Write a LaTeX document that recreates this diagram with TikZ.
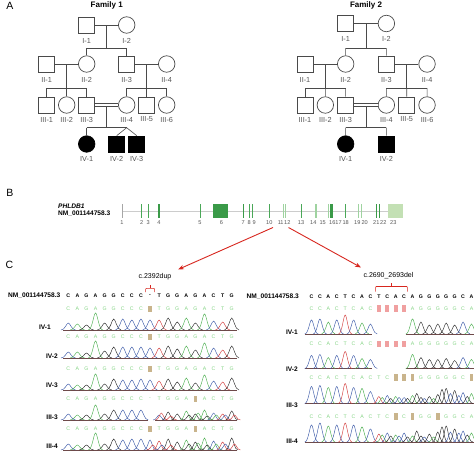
\documentclass[tikz,border=0pt]{standalone}
\usepackage{fontspec}
\setmainfont{Liberation Sans}
\usetikzlibrary{arrows.meta}
\newcommand\fsz[1]{\fontsize{#1}{#1}\selectfont}
\definecolor{pedline}{HTML}{4A4A4A}
\definecolor{labgray}{HTML}{555555}
\definecolor{arrred}{HTML}{D7261E}
\definecolor{exd}{HTML}{3A9A48}
\definecolor{exg}{HTML}{4AA858}
\definecolor{exl}{HTML}{9FD3A0}
\definecolor{exp}{HTML}{C3E0B4}
\definecolor{seqgreen}{HTML}{86D486}
\definecolor{tanbox}{HTML}{C9B48C}
\definecolor{pinkbox}{HTML}{F0A0A0}
\definecolor{pA}{HTML}{4CAF50}
\definecolor{pC}{HTML}{3C5AA8}
\definecolor{pG}{HTML}{2A2A2A}
\definecolor{pT}{HTML}{D23A3A}
\definecolor{basec}{HTML}{6E4A4A}

% pedigree core: #1 prefix, #2 y of generation I
\newcommand\pedcore[2]{%
\node[male]   (#1I1)  at (40,#2) {};
\node[female] (#1I2)  at (80,#2) {};
\node[male]   (#1II1) at (0,64) {};
\node[female] (#1II2) at (40,64) {};
\node[male]   (#1II3) at (80,64) {};
\node[female] (#1II4) at (120,64) {};
\node[male]   (#1III1) at (0,105) {};
\node[female] (#1III2) at (20,105) {};
\node[male]   (#1III3) at (40,105) {};
\node[female] (#1III4) at (80,105) {};
\node[male]   (#1III5) at (100,105) {};
\node[female] (#1III6) at (120,105) {};
\node[female,aff] (#1IV1) at (40,144) {};
\node[plab] (#1tI1) at (40,#2+15.5) {I-1};
\node[plab] (#1tI2) at (80,#2+15.5) {I-2};
\node[plab] (#1tII1) at (0,80) {II-1};
\node[plab] (#1tII2) at (40,80) {II-2};
\node[plab] (#1tII3) at (80,80) {II-3};
\node[plab] (#1tII4) at (120,80) {II-4};
\node[plab] (#1tIII1) at (0,119.5) {III-1};
\node[plab] (#1tIII2) at (20,119.5) {III-2};
\node[plab] (#1tIII3) at (40,119.5) {III-3};
\node[plab] (#1tIII4) at (80,119.5) {III-4};
\node[plab] (#1tIII5) at (100,119.5) {III-5};
\node[plab] (#1tIII6) at (120,119.5) {III-6};
\node[plab] (#1tIV1) at (40,158.5) {IV-1};
% generation I -> II
\draw[pl] (#1I1) -- (#1I2);
\coordinate (#1a1) at (60,#2);
\coordinate (#1a2) at (60,48);
\draw[pl] (#1a1) -- (#1a2);
\draw[pl] (#1II2 |- #1a2) -- (#1II3 |- #1a2);
\draw[pl] (#1II2 |- #1a2) -- (#1II2);
\draw[pl] (#1II3 |- #1a2) -- (#1II3);
% II-1 x II-2
\draw[pl] (#1II1) -- (#1II2);
\coordinate (#1b1) at (20,64);
\coordinate (#1b2) at (20,88);
\draw[pl] (#1b1) -- (#1b2);
\draw[pl] (#1III1 |- #1b2) -- (#1III3 |- #1b2);
\draw[pl] (#1III1 |- #1b2) -- (#1III1);
\draw[pl] (#1III2 |- #1b2) -- (#1III2);
\draw[pl] (#1III3 |- #1b2) -- (#1III3);
% II-3 x II-4
\draw[pl] (#1II3) -- (#1II4);
\coordinate (#1c1) at (100,64);
\coordinate (#1c2) at (100,88);
\draw[pl] (#1c1) -- (#1c2);
\draw[pl] (#1III4 |- #1c2) -- (#1III6 |- #1c2);
\draw[pl] (#1III4 |- #1c2) -- (#1III4);
\draw[pl] (#1III5 |- #1c2) -- (#1III5);
\draw[pl] (#1III6 |- #1c2) -- (#1III6);
% consanguineous III-3 x III-4
\draw[pl,double=white,double distance=2.2pt] (#1III3) -- (#1III4);
\coordinate (#1d1) at (60,106.4);
\coordinate (#1d2) at (60,127.7);
\draw[pl] (#1d1) -- (#1d2);
\draw[pl] (#1IV1 |- #1d2) -- (#1IV1);
}

% chromatogram peaks: #1 x0, #2 dx, #3 baseline, #4 half width, #5 list pos/height/colour
\newcommand\peaks[5]{%
\foreach \p/\h/\c in {#5}{%
 \pgfmathsetmacro\xx{#1+(\p-1)*#2}%
 \pgfmathsetmacro\yt{#3-\h}%
 \draw[pk,\c] ({\xx-#4},#3) .. controls ({\xx-0.45*#4},#3) and ({\xx-0.25*#4},\yt) .. (\xx,\yt) .. controls ({\xx+0.25*#4},\yt) and ({\xx+0.45*#4},#3) .. ({\xx+#4},#3);
}}
% sequence row: #1 name, #2 x0, #3 dx, #4 y, #5 style, #6 letters
\newcommand\seqrow[6]{%
\foreach \L [count=\i] in {#6} \node[#5] (#1-\i) at ({#2+(\i-1)*#3},#4) {\L};}
% coloured boxes: #1 colour, #2 x0, #3 dx, #4 y, #5 positions
\newcommand\seqbox[5]{%
\foreach \q in {#5} \fill[#1] ({#2+(\q-1)*#3-1.8},{#4-3.3}) rectangle ++(3.6,6.6);}

\def\Lx{68.3}\def\Ld{9.08}\def\Rx{311.5}\def\Rd{8.42}

\begin{document}
\begin{tikzpicture}[x=1pt,y=-1pt,
  male/.style={draw=pedline,line width=0.7pt,rectangle,minimum size=16pt,inner sep=0pt},
  female/.style={draw=pedline,line width=0.7pt,circle,minimum size=16.5pt,inner sep=0pt},
  aff/.style={fill=black,draw=black},
  pl/.style={draw=pedline,line width=0.6pt},
  plab/.style={font=\fsz{7.3},text=labgray,inner sep=0pt},
  ftitle/.style={font=\fsz{8}\bfseries,inner sep=0pt},
  panel/.style={font=\fsz{10.5},inner sep=0pt},
  exlab/.style={font=\fsz{5.6},text=labgray,inner sep=0pt},
  seqb/.style={font=\fsz{5.2}\bfseries,text=black,inner sep=0pt},
  seqg/.style={font=\fsz{5.2},text=seqgreen,inner sep=0pt},
  clab/.style={font=\fsz{6.6}\bfseries,anchor=east,inner sep=0pt},
  pk/.style={line width=0.45pt},
  bl/.style={draw=basec,line width=0.5pt},
  redarr/.style={draw=arrred,line width=0.9pt,-{Stealth[length=6pt,width=4.5pt]}},
  brk/.style={draw=arrred,line width=0.6pt,rounded corners=0.8pt}]
\path[use as bounding box] (0,0) rectangle (474,453);

% ================= Panel A =================
\node[panel] (pA) at (10,6) {A};
\begin{scope}[shift={(46.7,0)}]
\pedcore{f1}{25}
\node[ftitle] (f1name) at (60,5) {Family 1};
\node[male,aff] (f1IV2) at (70,144) {};
\node[male,aff] (f1IV3) at (90,144) {};
\node[plab] (f1tIV2) at (70,158.5) {IV-2};
\node[plab] (f1tIV3) at (90,158.5) {IV-3};
\coordinate (f1tw) at (80,127.7);
\draw[pl] (f1IV1 |- f1d2) -- (f1tw);
\draw[pl] (f1tw) -- (f1IV2.north);
\draw[pl] (f1tw) -- (f1IV3.north);
\end{scope}

\begin{scope}[shift={(305,0)},xscale=1.017]
\pedcore{f2}{23.5}
\node[ftitle] (f2name) at (60,5) {Family 2};
\node[male,aff] (f2IV2) at (80,144) {};
\node[plab] (f2tIV2) at (80,158.5) {IV-2};
\draw[pl] (f2IV1 |- f2d2) -- (f2IV2 |- f2d2);
\draw[pl] (f2IV2 |- f2d2) -- (f2IV2);
\end{scope}

% ================= Panel B =================
\node[panel] (pB) at (10,193) {B};
\node[anchor=west,font=\fsz{6.6}\bfseries\itshape,inner sep=0pt] (gname) at (58,206.3) {PHLDB1};
\node[anchor=west,font=\fsz{6.6}\bfseries,inner sep=0pt] (tname) at (58,214) {NM\_001144758.3};
\draw[draw=black!20,line width=0.6pt] (122,211) -- (390,211);
\foreach \x/\w/\c in {122/0.7/black!35,141.7/0.9/exg,148.3/0.9/exg,159/1.6/exd,200/0.9/exg,243.3/1.2/exd,249.8/0.9/exg,252.6/0.9/exg,269.3/1.0/exg,283.2/0.8/exl,285.8/0.8/exl,301.7/0.9/exg,315/0.8/exl,316.8/0.8/exl,328.3/0.8/exl,345.2/0.8/exg,358.5/0.8/exl,361/0.8/exl,376.7/1.0/exd,379.5/1.0/exd}
  \fill[\c] ({\x-\w/2},204) rectangle ({\x+\w/2},217.7);
\fill[exd] (213.3,204) rectangle (228.3,217.7);
\fill[exd] (329.6,204) rectangle (332.6,217.7);
\fill[exp] (388.3,204) rectangle (402.7,217.7);
\foreach \n/\x in {1/122,2/141.7,3/148.3,4/159,5/200,6/221.5,7/243.3,8/249.3,9/254.3,10/269.3,11/280.7,12/287.3,13/301,14/313.3,15/322.7,16/332.3,17/338.5,18/345.7,19/357.3,20/364.7,21/376.3,22/383.3,23/393.3}
  \node[exlab] (ex\n) at (\x,222.5) {\n};
\coordinate (ar1s) at (273,227.5);
\coordinate (ar1e) at (178,269.5);
\coordinate (ar2s) at (288.5,227.5);
\coordinate (ar2e) at (361,267.5);
\draw[redarr] (ar1s) -- (ar1e);
\draw[redarr] (ar2s) -- (ar2e);

% ================= Panel C =================
\node[panel] (pC) at (9.5,264.5) {C};
% ---- left: c.2392dup
\node[font=\fsz{7},inner sep=0pt] (mut1) at (155,277) {c.2392dup};
\draw[brk] (145.6,292) -- (145.6,288.3) -- (154.6,288.3) -- (154.6,292);
\draw[brk] (150.1,288.3) -- (150.1,284.5);
\node[clab] (nmL) at (60.5,296) {NM\_001144758.3};
\seqrow{refL}{\Lx}{\Ld}{296}{seqb}{C,A,G,A,G,G,C,C,C,-,T,G,G,A,G,A,C,T,G}
% rows
\seqbox{tanbox}{\Lx}{\Ld}{309}{10}
\seqrow{gL1}{\Lx}{\Ld}{309}{seqg}{C,A,G,A,G,G,C,C,C,{},T,G,G,A,G,A,C,T,G}
\draw[bl] (63,330) -- (237,330);
\peaks{\Lx}{\Ld}{330}{7.3}{1/7/pC,2/6/pA,3/5/pG,4/17/pA,5/7/pG,6/11/pG,7/11/pC,8/10/pC,9/11/pC,10/10/pC,11/10/pT,12/12/pG,13/8/pG,14/12/pA,15/7/pG,16/16/pA,17/9/pC,18/8/pT,19/12/pG}
\node[clab] (lIV1) at (51,327) {IV-1};

\seqbox{tanbox}{\Lx}{\Ld}{337}{10}
\seqrow{gL2}{\Lx}{\Ld}{337}{seqg}{C,A,G,A,G,G,C,C,C,{},T,G,G,A,G,A,C,T,G}
\draw[bl] (63,358) -- (237,358);
\peaks{\Lx}{\Ld}{358}{7.3}{1/6/pC,2/6/pA,3/5/pG,4/17/pA,5/7/pG,6/11/pG,7/11/pC,8/11/pC,9/11/pC,10/10/pC,11/10/pT,12/12/pG,13/9/pG,14/12/pA,15/8/pG,16/15/pA,17/10/pC,18/8/pT,19/12/pG}
\node[clab] (lIV2) at (58,356) {IV-2};

\seqbox{tanbox}{\Lx}{\Ld}{369}{10}
\seqrow{gL3}{\Lx}{\Ld}{369}{seqg}{C,A,G,A,G,G,C,C,C,{},T,G,G,A,G,A,C,T,G}
\draw[bl] (63,390) -- (237,390);
\peaks{\Lx}{\Ld}{390}{7.3}{1/6/pC,2/5/pA,3/5/pG,4/16/pA,5/6/pG,6/11/pG,7/10/pC,8/10/pC,9/11/pC,10/10/pC,11/9/pT,12/11/pG,13/8/pG,14/12/pA,15/7/pG,16/15/pA,17/9/pC,18/8/pT,19/12/pG}
\node[clab] (lIV3) at (58,385) {IV-3};

\seqbox{tanbox}{\Lx}{\Ld}{399}{15}
\seqrow{gL4}{\Lx}{\Ld}{399}{seqg}{C,A,G,A,G,G,C,C,C,-,T,G,G,A,{},A,C,T,G}
\draw[bl] (63,420) -- (148,420);
\draw[bl] (155,420) -- (237,420);
\peaks{\Lx}{\Ld}{420}{7.3}{1/6/pC,2/5/pA,3/5/pG,4/15/pA,5/6/pG,6/10/pG,7/10/pC,8/10/pC,9/10/pC}
\peaks{\Lx}{\Ld}{420}{6}{11/5/pC,11.25/7/pT,12/8/pG,12.3/4/pT,13/6/pG,14/9/pA,14.3/5/pG,15/6/pG,15.3/7/pA,16/10/pA,16.3/4/pG,17/7/pC,17.3/5/pA,18/6/pT,18.3/5/pC,19/9/pG,19.3/5/pT}
\node[clab] (lIII3) at (58,417) {III-3};

\seqbox{tanbox}{\Lx}{\Ld}{429}{10,15}
\seqrow{gL5}{\Lx}{\Ld}{429}{seqg}{C,A,G,A,G,G,C,C,C,{},T,G,G,A,{},A,C,T,G}
\draw[bl,line width=0.9pt] (63,450) -- (237,450);
\peaks{\Lx}{\Ld}{450}{7.3}{1/6/pC,2/5/pA,3/5/pG,4/17/pA,5/6/pG,6/11/pG,7/10/pC,8/11/pC,9/11/pC}
\peaks{\Lx}{\Ld}{450}{6}{10/10/pC,10.3/5/pT,11/9/pT,11.3/5/pC,12/11/pG,12.3/5/pT,13/8/pG,14/10/pA,14.3/6/pG,15/8/pG,15.3/7/pA,16/12/pA,16.3/5/pG,17/9/pC,17.3/6/pA,18/8/pT,18.3/6/pC,19/12/pG,19.3/6/pT}
\node[clab] (lIII4) at (58,446) {III-4};

% ---- right: c.2690_2693del
\node[font=\fsz{7},inner sep=0pt] (mut2) at (388.5,276) {c.2690\_2693del};
\draw[brk] (375.6,291.5) -- (375.6,286.5) -- (407.4,286.5) -- (407.4,291.5);
\draw[brk] (391.5,286.5) -- (391.5,282.5);
\node[clab] (nmR) at (299,296.5) {NM\_001144758.3};
\seqrow{refR}{\Rx}{\Rd}{296.5}{seqb}{C,C,A,C,T,C,A,C,T,C,A,C,A,G,G,G,G,G,C,A}

\seqbox{pinkbox}{\Rx}{\Rd}{308.5}{9,10,11,12}
\seqrow{gR1}{\Rx}{\Rd}{308.5}{seqg}{C,C,A,C,T,C,A,C,{},{},{},{},A,G,G,G,G,G,C,A}
\draw[bl] (305,334) -- (372,334);
\draw[bl] (406,334) -- (474,334);
\peaks{\Rx}{\Rd}{334}{6.8}{1/14/pC,2/15/pC,3/12/pA,4/14/pC,5/19/pT,6/14/pC,7/11/pA,8/10/pC,13/15/pA,14/12/pG,15/9/pG,16/10/pG,17/11/pG,18/9/pG,19/12/pC,20/10/pA}
\node[clab] (rIV1) at (298,332.5) {IV-1};

\seqbox{pinkbox}{\Rx}{\Rd}{344}{9,10,11,12}
\seqrow{gR2}{\Rx}{\Rd}{344}{seqg}{C,C,A,C,T,C,A,C,{},{},{},{},A,G,G,G,G,G,C,A}
\draw[bl] (305,368.5) -- (372,368.5);
\draw[bl] (406,368.5) -- (474,368.5);
\peaks{\Rx}{\Rd}{368.5}{6.8}{1/13/pC,2/14/pC,3/11/pA,4/13/pC,5/17/pT,6/13/pC,7/10/pA,8/9/pC,13/14/pA,14/11/pG,15/9/pG,16/9/pG,17/10/pG,18/8/pG,19/11/pC,20/9/pA}
\node[clab] (rIV2) at (298,369) {IV-2};

\seqbox{tanbox}{\Rx}{\Rd}{377.7}{11,12,13,20}
\seqrow{gR3}{\Rx}{\Rd}{377.7}{seqg}{C,C,A,C,T,C,A,C,T,C,{},{},{},G,G,G,G,G,C,{}}
\draw[bl] (305,403.5) -- (474,403.5);
\peaks{\Rx}{\Rd}{403.5}{6.8}{1/17/pC,2/18/pC,3/16/pA,4/17/pC,5/20/pT,6/16/pC,7/15/pA,8/12/pC}
\peaks{\Rx}{\Rd}{403.5}{5.5}{9/7/pT,9.4/6/pA,10/8/pC,10.4/5/pG,11/7/pA,11.4/6/pC,12/6/pC,12.4/5/pG,13/8/pA,13.5/10/pG,14/6/pG,14.4/5/pC,15/7/pG,15.5/5/pA,16/9/pG,16.5/14/pG,17/15/pG,17.5/10/pC,18/13/pG,18.5/8/pC,19/11/pC,19.5/7/pG,20/10/pA}
\node[clab] (rIII3) at (298,405) {III-3};

\seqbox{tanbox}{\Rx}{\Rd}{416.7}{11,13,16}
\seqrow{gR4}{\Rx}{\Rd}{416.7}{seqg}{C,C,A,C,T,C,A,C,T,C,{},C,{},G,G,{},G,G,C,A}
\draw[bl,line width=0.8pt] (305,442) -- (474,442);
\peaks{\Rx}{\Rd}{442}{6.8}{1/17/pC,2/19/pC,3/16/pA,4/17/pC,5/19/pT,6/17/pC,7/15/pA,8/13/pC}
\peaks{\Rx}{\Rd}{442}{5.5}{9/8/pT,9.4/7/pA,10/9/pC,10.4/6/pG,11/7/pA,11.4/6/pC,12/9/pC,12.4/5/pG,13/6/pA,13.5/11/pG,14/6/pG,14.4/5/pC,15/8/pG,15.5/5/pA,16/10/pG,16.5/15/pG,17/16/pG,17.5/10/pC,18/13/pG,18.5/9/pC,19/11/pC,19.5/7/pG,20/9/pA}
\node[clab] (rIII4) at (298,441) {III-4};
\end{tikzpicture}
\end{document}
